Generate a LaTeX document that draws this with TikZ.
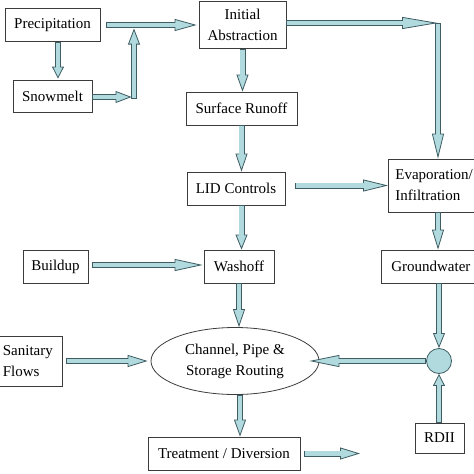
\documentclass[tikz,border=0pt]{standalone}
\usepackage{fontspec}
\setmainfont{Liberation Serif}
\usetikzlibrary{calc,arrows.meta,shapes.geometric}
\definecolor{arrowfill}{RGB}{176,218,222}
\definecolor{arrowedge}{RGB}{62,92,98}
\definecolor{boxedge}{RGB}{60,60,60}
\tikzset{
  shaftout/.style={draw=arrowedge, line width=6pt},
  shaftin/.style={draw=arrowfill, line width=4.4pt},
  box/.style={draw=boxedge, line width=0.8pt, inner sep=0pt, align=center,
    font=\fontsize{15}{21}\selectfont},
}
\newcommand\flowarrow[3][16pt]{%
  \draw[shaftout] #2 -- ($#3!#1-1pt!#2$);
  \draw[shaftin, shorten <=0.8pt] #2 -- ($#3!#1-1pt!#2$);
  \draw[draw=arrowedge, line width=0.8pt,
    -{Triangle[length=#1,width=12pt,fill=arrowfill]}] ($#3!#1!#2$) -- #3;
  \draw[shaftin] ($#3!#1+1pt!#2$) -- ($#3!#1-2pt!#2$);
}
\begin{document}
\begin{tikzpicture}[x=1pt,y=-1pt]
\useasboundingbox (0,0) rectangle (474,474);
\clip (0,0) rectangle (474,474);
% nodes
\node[box, minimum width=95pt, minimum height=33pt] (precip) at (52.5,25) {Precipitation};
\node[box, minimum width=79pt, minimum height=32pt] (snow) at (52.5,96) {Snowmelt};
\node[box, minimum width=87pt, minimum height=47pt] (ia) at (242.5,25) {Initial\\Abstraction};
\node[box, minimum width=111pt, minimum height=33pt] (sr) at (241.5,108.5) {Surface Runoff};
\node[box, minimum width=98pt, minimum height=33pt] (lid) at (236,188.5) {LID Controls};
\node[box, anchor=west, minimum height=53pt, text width=80pt, inner xsep=7pt, align=left] (evap) at (388,185.5) {Evaporation/\\Infiltration};
\node[box, minimum width=70pt, minimum height=33pt] (wash) at (239,266.5) {Washoff};
\node[box, minimum width=65pt, minimum height=33pt] (build) at (55.5,266.5) {Buildup};
\node[box, anchor=west, minimum width=99pt, minimum height=33pt] (gw) at (381,266.5) {Groundwater};
\node[circle, draw=arrowedge, fill=arrowfill, line width=0.8pt, minimum size=25pt, inner sep=0pt] (junc) at (439,361) {};
\node[box, minimum width=49pt, minimum height=30pt] (rdii) at (439.5,438) {RDII};
\node[box, ellipse, minimum width=168pt, minimum height=67pt] (route) at (235,361) {Channel, Pipe \&\\Storage Routing};
\node[box, anchor=west, minimum height=50pt, text width=51pt, inner xsep=8.5pt, align=left] (san) at (-6,361) {Sanitary\\Flows};
\node[box, minimum width=152pt, minimum height=33pt] (treat) at (224,453.5) {Treatment / Diversion};
\coordinate (out) at (360,453.5);
\coordinate (jsnow) at (134,97);
\coordinate (jtop) at (134,28.5);
\coordinate (corner) at (438,23);
% connectors
\flowarrow[22pt]{([xshift=6pt]precip.east)}{([xshift=-2pt]ia.west)}
\flowarrow[12pt]{([xshift=5.5pt]precip.south)}{([xshift=5.5pt,yshift=1pt]snow.north)}
\flowarrow[16pt]{(snow.east |- jsnow)}{([xshift=-2.5pt]jsnow)}
\flowarrow[16pt]{([yshift=-1.5pt]jsnow)}{(jtop)}
\flowarrow[36pt]{(ia.east |- corner)}{(corner)}
\flowarrow[25pt]{(corner)}{(corner |- evap.north)}
\flowarrow[17pt]{(ia.south)}{(ia.south |- sr.north)}
\flowarrow[18pt]{(sr.south)}{(sr.south |- lid.north)}
\flowarrow[15pt]{(sr.south |- lid.south)}{(sr.south |- wash.north)}
\flowarrow[25pt]{($(lid.east |- evap.west)+(10,0)$)}{(evap.west)}
\flowarrow[28pt]{([xshift=4pt,yshift=1.5pt]build.east)}{([xshift=-1pt,yshift=1.5pt]wash.west)}
\flowarrow[20pt]{(corner |- evap.south)}{(corner |- gw.north)}
\flowarrow[15pt]{(junc |- gw.south)}{(junc.north)}
\flowarrow[12pt]{(junc |- rdii.north)}{(junc.south)}
\flowarrow[30pt]{(junc.west)}{([xshift=-10pt]route.east)}
\flowarrow[18pt]{(wash.south)}{(wash.south |- route.north)}
\flowarrow[20pt]{([xshift=3pt]san.east)}{([xshift=-3pt]route.west)}
\flowarrow[17pt]{([xshift=5pt]route.south)}{([xshift=5pt]route.south |- treat.north)}
\flowarrow[20pt]{([xshift=4pt]treat.east)}{(out)}
\end{tikzpicture}
\end{document}
